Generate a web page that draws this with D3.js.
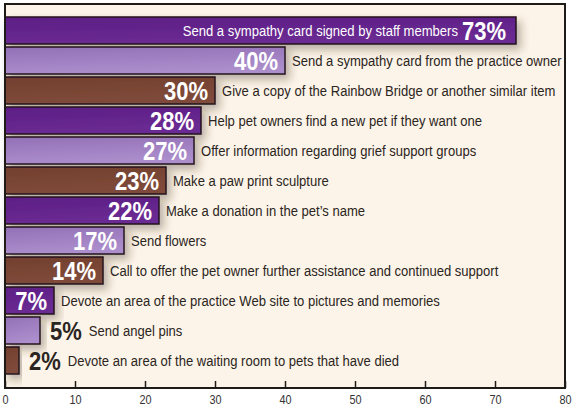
<!DOCTYPE html>
<html lang="en">
<head>
  <meta charset="UTF-8">
  <title>Sympathy gestures</title>
  <script src="https://cdn.jsdelivr.net/npm/d3@7"></script>
  <style>
    body { margin: 0; background: #fff; }
    text { font-family: 'Liberation Sans', Arial, sans-serif; }
  </style>
</head>
<body>
<div id="grafica"></div>
<script>
// datos
categorias = [
  'Send a sympathy card signed by staff members',
  'Send a sympathy card from the practice owner',
  'Give a copy of the Rainbow Bridge or another similar item',
  'Help pet owners find a new pet if they want one',
  'Offer information regarding grief support groups',
  'Make a paw print sculpture',
  'Make a donation in the pet\u2019s name',
  'Send flowers',
  'Call to offer the pet owner further assistance and continued support',
  'Devote an area of the practice Web site to pictures and memories',
  'Send angel pins',
  'Devote an area of the waiting room to pets that have died'
]
valores = [73, 40, 30, 28, 27, 23, 22, 17, 14, 7, 5, 2]
ticks = [0, 10, 20, 30, 40, 50, 60, 70, 80]

ancho = 573
alto = 411
colores = ['url(#gOscuro)', 'url(#gClaro)', 'url(#gCafe)']
angosto = 0.87   // letra condensada
angostoPct = 0.88
tamPct = 25
tamDesc = 15

svg = d3.select('#grafica')
  .append('svg')
  .attr('width', ancho)
  .attr('height', alto)

defs = svg.append('defs')
function grad(id, c1, c2) {
  g = defs.append('linearGradient').attr('id', id)
    .attr('x1', 0).attr('y1', 0).attr('x2', 0.3).attr('y2', 1)
  g.append('stop').attr('offset', '0%').attr('stop-color', c1)
  g.append('stop').attr('offset', '100%').attr('stop-color', c2)
}
grad('gOscuro', '#5c1e85', '#6b2b93')
grad('gClaro', '#9370b6', '#ac8ecc')
grad('gCafe', '#72402f', '#7f4a3a')

sombra = defs.append('filter').attr('id', 'sombra')
  .attr('x', '-10%').attr('y', '-50%').attr('width', '130%').attr('height', '220%')
sombra.append('feDropShadow')
  .attr('dx', 4).attr('dy', 5).attr('stdDeviation', 4)
  .attr('flood-color', '#3a2a20').attr('flood-opacity', 0.35)

x = d3.scaleLinear().domain([0, 80]).range([5, 565])
y = d3.scaleBand().domain(categorias).range([15.5, 375.5]).paddingInner(0.1).paddingOuter(0.05)
color = d3.scaleOrdinal().domain(d3.range(3)).range(colores)

// texto angosto: un g escalado en x
function texto(sel, px, py, t, size, bold, fill, anchor, sx) {
  g = sel.append('g').attr('transform', 'translate(' + px + ',' + py + ') scale(' + sx + ',1)')
  return g.append('text')
    .attr('dy', '0.36em')
    .attr('font-size', size)
    .attr('font-weight', bold ? 'bold' : 'normal')
    .attr('fill', fill)
    .attr('text-anchor', anchor)
    .text(t)
}
function largo(t, size, bold, sx) {
  tmp = svg.append('text').attr('font-size', size).attr('font-weight', bold ? 'bold' : 'normal').text(t)
  w = tmp.node().getComputedTextLength() * sx
  tmp.remove()
  return w
}

// fondo
svg.append('rect')
  .attr('x', 5).attr('y', 4)
  .attr('width', 560).attr('height', 384)
  .attr('fill', '#fcf4e8')

datos = categorias.map((c, i) => ({ cat: c, val: valores[i], i: i }))

barras = svg.selectAll('g.barra')
  .data(datos)
  .enter().append('g')
  .attr('class', 'barra')

barras.append('rect')
  .attr('x', x(0))
  .attr('y', d => y(d.cat))
  .attr('width', d => x(d.val) - x(0))
  .attr('height', y.bandwidth())
  .attr('fill', d => color(d.i % 3))
  .attr('stroke', '#24141e')
  .attr('stroke-width', 1.5)
  .attr('filter', 'url(#sombra)')

barras.each(function(d) {
  sel = d3.select(this)
  fin = x(d.val)
  cy = y(d.cat) + y.bandwidth() / 2
  pct = d.val + '%'
  wp = largo(pct, tamPct, true, angostoPct)
  wd = largo(d.cat, tamDesc, false, angosto)
  if (wp + wd + 20 < fin - x(0)) {
    texto(sel, fin - 10, cy, pct, tamPct, true, '#fff', 'end', angostoPct)
    texto(sel, fin - wp - 14, cy, d.cat, tamDesc, false, '#fff', 'end', angosto)
  } else if (wp + 8 < fin - x(0)) {
    texto(sel, fin - 7, cy, pct, tamPct, true, '#fff', 'end', angostoPct)
    texto(sel, fin + 7, cy, d.cat, tamDesc, false, '#2b2522', 'start', angosto)
  } else {
    texto(sel, fin + 10, cy, pct, tamPct, true, '#2b2522', 'start', angostoPct)
    texto(sel, fin + 10 + wp + 7, cy, d.cat, tamDesc, false, '#2b2522', 'start', angosto)
  }
})

// marco
svg.append('rect')
  .attr('x', 5).attr('y', 4)
  .attr('width', 560).attr('height', 384)
  .attr('fill', 'none')
  .attr('stroke', '#1e1a18')
  .attr('stroke-width', 2)

eje = svg.append('g')
  .attr('transform', 'translate(0,388)')
  .call(d3.axisBottom(x).tickValues(ticks).tickSize(-7).tickPadding(7))
eje.select('.domain').remove()
eje.selectAll('line').attr('stroke', '#1e1a18').attr('stroke-width', 1.5)
eje.selectAll('text')
  .attr('font-size', 12.5)
  .attr('fill', '#333')
  .attr('transform', 'scale(' + angosto + ',1)')
</script>
</body>
</html>
